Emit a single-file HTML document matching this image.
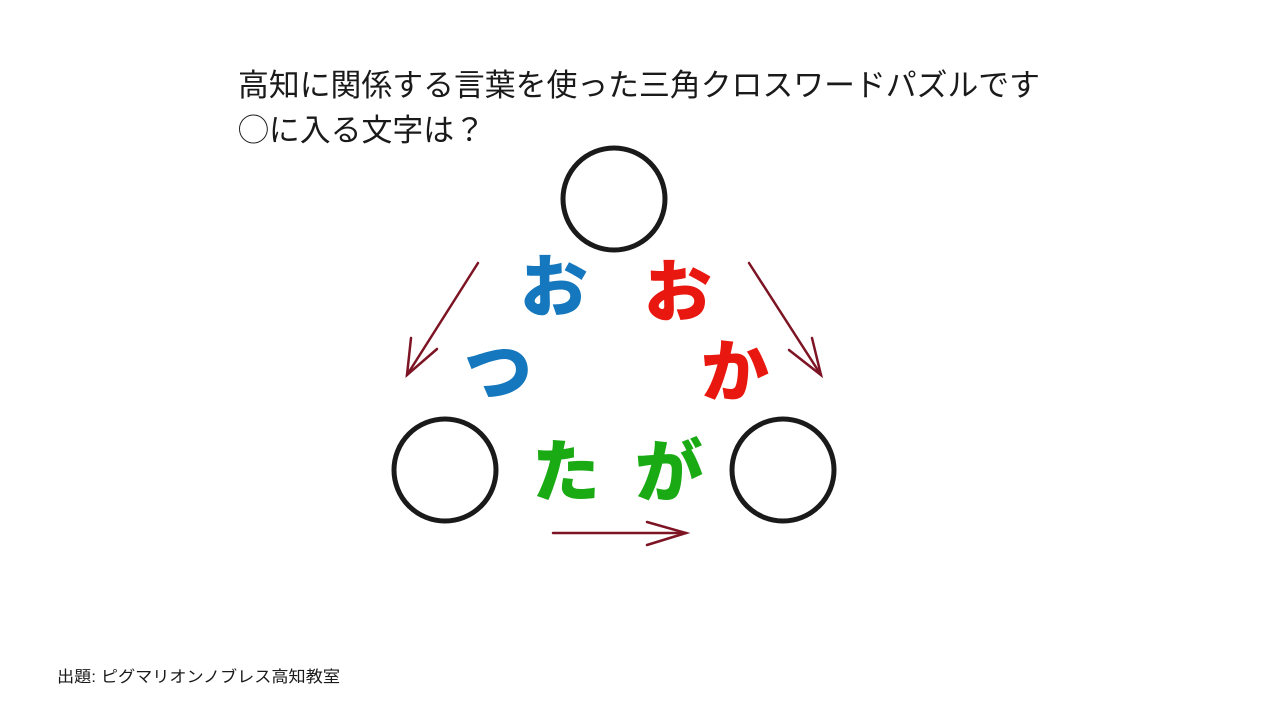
<!DOCTYPE html>
<html><head><meta charset="utf-8"><style>
html,body{margin:0;padding:0;background:#fff;}
svg{display:block;}
</style></head><body>
<svg width="1280" height="720" viewBox="0 0 1280 720" xmlns="http://www.w3.org/2000/svg">
<rect width="1280" height="720" fill="#fff"/>
<g font-family="'Liberation Sans','Noto Sans CJK JP',sans-serif" fill="#1a1a1a" font-size="31">
<text x="238" y="96" textLength="802" lengthAdjust="spacingAndGlyphs">高知に関係する言葉を使った三角クロスワードパズルです</text>
<text x="238" y="141" textLength="247" lengthAdjust="spacingAndGlyphs">◯に入る文字は？</text>
</g>
<g fill="none" stroke="#1a1a1a" stroke-width="5">
<circle cx="614" cy="199" r="51"/>
<circle cx="445" cy="470" r="51"/>
<circle cx="783" cy="470" r="51"/>
</g>
<g fill="none" stroke="#7d1424" stroke-width="2.5" stroke-linecap="round">
<line x1="478" y1="263" x2="407" y2="375"/>
<polyline points="411,338 407,375 437,349"/>
<line x1="749" y1="263" x2="821" y2="375"/>
<polyline points="812,338 821,375 789,350"/>
<line x1="553" y1="533" x2="686" y2="533"/>
<polyline points="647,522 686,533 647,545"/>
</g>
<g font-family="'Noto Sans CJK JP',sans-serif" font-weight="900" font-size="68" text-anchor="middle">
<text x="554" y="311" fill="#1578be">お</text>
<text x="498" y="396" fill="#1578be">つ</text>
<text x="678" y="316" fill="#e8170f">お</text>
<text x="735" y="396" fill="#e8170f">か</text>
<text x="566" y="496" fill="#1aaa14">た</text>
<text x="669" y="496" fill="#1aaa14">が</text>
</g>
<text x="57" y="682" font-family="'Liberation Sans','Noto Sans CJK JP',sans-serif" font-size="16" fill="#1a1a1a" textLength="283" lengthAdjust="spacingAndGlyphs">出題: ピグマリオンノブレス高知教室</text>
</svg>
</body></html>
